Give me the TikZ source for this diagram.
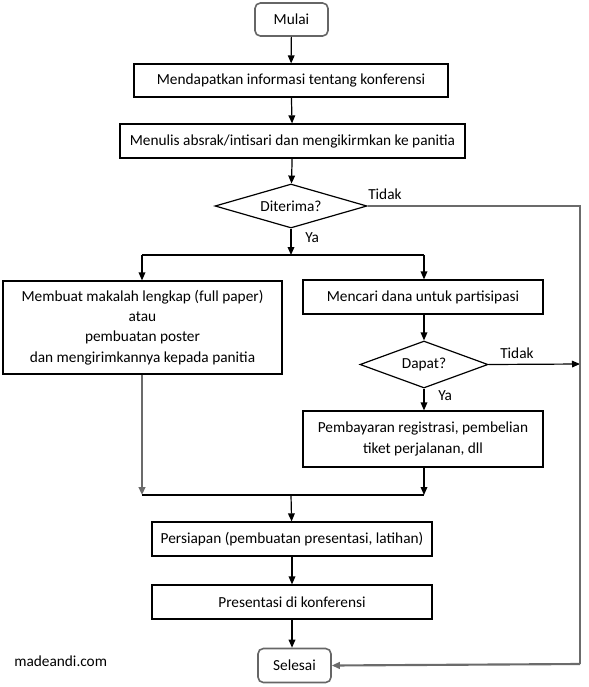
\documentclass[tikz,border=0pt]{standalone}
\usepackage{fontspec}
\setmainfont{Carlito}
\usetikzlibrary{arrows.meta,shapes.geometric}
\begin{document}
\begin{tikzpicture}[x=0.75pt,y=-0.75pt,
  font=\fontsize{11.5}{14}\selectfont,
  box/.style={draw,line width=0.9pt,minimum height=34*0.75pt,inner sep=0pt,align=center},
  term/.style={box,rounded corners=4pt,line width=1.2pt,draw=black!60},
  dec/.style={draw,diamond,line width=0.9pt,inner sep=0pt,aspect=3.4},
  arr/.style={-{Triangle[length=6pt,width=5pt]},line width=0.9pt},
  gl/.style={line width=1.6pt,draw=black!58},
  lbl/.style={inner sep=0pt}]
\useasboundingbox (0,0) rectangle (589,687);
\node[term,minimum width=73*0.75pt,minimum height=33*0.75pt] (mulai) at (291.5,19.5) {Mulai};
\node[box,minimum width=314*0.75pt,minimum height=33*0.75pt] (b1) at (291,80.5) {Mendapatkan informasi tentang konferensi};
\node[box,minimum width=345*0.75pt] (b2) at (292.5,141) {Menulis absrak/intisari dan mengikirmkan ke panitia};
\node[dec,minimum width=152*0.75pt,minimum height=44*0.75pt] (d1) at (291,206) {Diterima?};
\node[box,minimum width=279*0.75pt,minimum height=93*0.75pt,font=\fontsize{11.5}{15.3}\selectfont] (left) at (142.5,327.5) {Membuat makalah lengkap (full paper)\\atau\\pembuatan poster\\dan mengirimkannya kepada panitia};
\node[box,minimum width=240*0.75pt] (cari) at (423,297) {Mencari dana untuk partisipasi};
\node[dec,minimum width=128*0.75pt,minimum height=47*0.75pt] (d2) at (424,364.5) {Dapat?};
\node[box,minimum width=240*0.75pt,minimum height=56*0.75pt,font=\fontsize{11.5}{15.5}\selectfont] (bayar) at (423,439) {Pembayaran registrasi, pembelian\\tiket perjalanan, dll};
\node[box,minimum width=280*0.75pt] (siap) at (292,539) {Persiapan (pembuatan presentasi, latihan)};
\node[box,minimum width=280*0.75pt] (pres) at (292,602) {Presentasi di konferensi};
\node[term,minimum width=73*0.75pt,minimum height=34*0.75pt] (selesai) at (294.5,665.5) {Selesai};
\node[lbl,anchor=west] (web) at (14,661) {madeandi.com};
\coordinate (split) at (291,255);
\coordinate (splitL) at (142,255);
\coordinate (splitR) at (424,255);
\coordinate (join) at (291,495);
\coordinate (joinL) at (142,495);
\coordinate (joinR) at (424,495);
\coordinate (rt) at (580,206);
\coordinate (rb) at (580,664);
\coordinate (rm) at (580,364);
\draw[arr] (mulai) -- (b1);
\draw[arr] (b1) -- (b2);
\draw[arr] (b2) -- (d1);
\draw[arr] (d1) -- (split);
\draw[line width=0.9pt] (splitL) -- (splitR);
\draw[arr] (splitL) -- (left.north -| splitL);
\draw[arr] (splitR) -- (cari.north -| splitR);
\draw[arr] (cari.south -| d2.north) -- (d2);
\draw[arr] (d2) -- (bayar.north -| d2.south);
\draw[arr] (d2.east) -- (rm);
\draw[gl] (d1.east) -- (rt) -- (rb);
\draw[gl,-{Triangle[length=6pt,width=5pt]}] (rb) -- (selesai.east);
\draw[gl,-{Triangle[length=6pt,width=5pt]}] (left.south -| joinL) -- (joinL);
\draw[arr] (bayar.south -| joinR) -- (joinR);
\draw[line width=0.9pt] (joinL) -- (joinR);
\draw[arr] (join) -- (siap);
\draw[arr] (siap) -- (pres);
\draw[arr] (pres) -- (selesai.north -| pres.south);
\node[lbl,anchor=west] (t1) at (368,194) {Tidak};
\node[lbl,anchor=west] (y1) at (305,238) {Ya};
\node[lbl,anchor=west] (t2) at (500,353) {Tidak};
\node[lbl,anchor=west] (y2) at (438,396) {Ya};
\end{tikzpicture}
\end{document}
